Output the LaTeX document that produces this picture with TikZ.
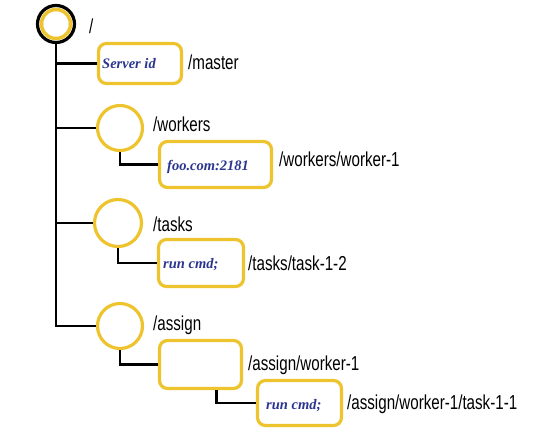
\documentclass[tikz,border=0pt]{standalone}
\usepackage{fontspec}
\setmainfont{Liberation Sans}
\newfontfamily\lblfont[FakeStretch=0.75]{Liberation Sans}
\newfontfamily\valfont{Liberation Serif}
\definecolor{zkyellow}{HTML}{EEC42E}
\definecolor{zkblue}{HTML}{2B3590}
\tikzset{
  zbox/.style={draw=zkyellow, line width=3.2pt, rounded corners=8pt, fill=white, inner sep=0pt},
  zcirc/.style={circle, draw=zkyellow, line width=3.2pt, fill=white, inner sep=0pt},
  lbl/.style={anchor=base west, inner sep=0pt, font=\lblfont\fontsize{20.2}{20.2}\selectfont},
  val/.style={anchor=base west, inner sep=0pt, text=zkblue, font=\valfont\bfseries\itshape\fontsize{14.5}{14.5}\selectfont},
  conn/.style={draw=black, line width=2.5pt}
}
\begin{document}
\begin{tikzpicture}[x=1pt,y=-1pt]
\useasboundingbox (0,0) rectangle (550,432);
% root
\node[circle, draw=black, line width=3.2pt, fill=white, minimum size=37pt, inner sep=0pt] (root) at (56,24) {};
\draw[zkyellow, line width=3.5pt] (root.center) circle (14.5pt);
\node[lbl] (lroot) at (89,33) {/};
% boxes
\node[zbox, minimum width=83pt, minimum height=40pt] (master) at (140,63.5) {};
\node[zcirc, minimum size=45pt] (workers) at (120,128) {};
\node[zbox, minimum width=112pt, minimum height=46pt] (foo) at (215.5,164.5) {};
\node[zcirc, minimum size=47pt] (tasks) at (118,223) {};
\node[zbox, minimum width=85pt, minimum height=47pt] (trun) at (201,263) {};
\node[zcirc, minimum size=45pt] (assign) at (120,326) {};
\node[zbox, minimum width=82pt, minimum height=48pt] (aw) at (200.5,364.5) {};
\node[zbox, minimum width=84pt, minimum height=45pt] (at) at (299.5,403) {};
% connectors
\draw[conn] (root.south) |- (assign.west);
\draw[conn] (master.west) -- (master.west -| root.south);
\draw[conn] (workers.west) -- (workers.west -| root.south);
\draw[conn] (tasks.west) -- (tasks.west -| root.south);
\draw[conn] (workers.south) |- (foo.west);
\draw[conn] (tasks.south) |- (trun.west);
\draw[conn] (assign.south) |- (aw.west);
\draw[conn] ([xshift=16pt]aw.south) |- (at.west);
% values
\node[val] (vmaster) at (102,68) {Server id};
\node[val] (vfoo) at (167,170) {foo.com:2181};
\node[val] (vtrun) at (163,268) {run cmd;};
\node[val] (vat) at (266,409) {run cmd;};
% labels
\node[lbl] (lmaster) at (188,69) {/master};
\node[lbl] (lworkers) at (153,131) {/workers};
\node[lbl] (lfoo) at (279,166) {/workers/worker-1};
\node[lbl] (ltasks) at (153,231) {/tasks};
\node[lbl] (ltrun) at (248,270) {/tasks/task-1-2};
\node[lbl] (lassign) at (153,330) {/assign};
\node[lbl] (law) at (248,370) {/assign/worker-1};
\node[lbl] (lat) at (347,409) {/assign/worker-1/task-1-1};
\end{tikzpicture}
\end{document}
